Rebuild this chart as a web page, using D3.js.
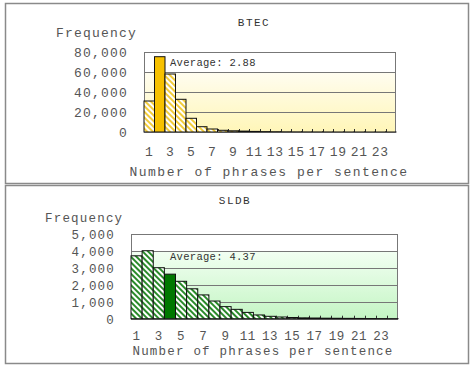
<!DOCTYPE html>
<html><head><meta charset="utf-8">
<script src="https://cdn.jsdelivr.net/npm/d3@7/dist/d3.min.js"></script>
<style>
body{margin:0;background:#fff;}
text{font-family:"Liberation Mono","Courier New",monospace;fill:#555;}
</style></head>
<body><svg id="c" width="474" height="366"></svg>
<script>
const categories = [1,2,3,4,5,6,7,8,9,10,11,12,13,14,15,16,17,18,19,20,21,22,23,24];
const tickLabels = [1,3,5,7,9,11,13,15,17,19,21,23];
const btecValues = [31000,75300,58000,32700,13700,5300,3000,1700,1200,900,600,400,300,200,150,100,80,60,40,30,20,15,10,5];
const sldbValues = [3700,4000,3000,2620,2200,1760,1400,1040,710,550,370,220,140,100,70,50,40,30,25,20,15,10,8,5];
const btecYTicks = [0,20000,40000,60000,80000];
const sldbYTicks = [0,1000,2000,3000,4000,5000];
const btecTitle = "BTEC", sldbTitle = "SLDB";
const btecAverage = "Average: 2.88", sldbAverage = "Average: 4.37";
const btecHighlight = 2, sldbHighlight = 4;

const svg = d3.select("#c");
const defs = svg.append("defs");

function hatch(id, color){
  const p = defs.append("pattern").attr("id", id).attr("patternUnits","userSpaceOnUse")
    .attr("width",4).attr("height",4).attr("patternTransform","rotate(45)");
  p.append("rect").attr("width",4).attr("height",4).attr("fill","#fff");
  p.append("rect").attr("width",4).attr("height",2).attr("fill",color);
}
hatch("hY","#f2cc3a");
hatch("hG","#2a8a2a");

function grad(id, stops){
  const g = defs.append("linearGradient").attr("id",id).attr("x1",0).attr("y1",0).attr("x2",0).attr("y2",1);
  stops.forEach(s=>g.append("stop").attr("offset",s[0]).attr("stop-color",s[1]));
}
grad("bgY",[[0,"#ffffff"],[0.25,"#ffffff"],[0.26,"#fffdf0"],[1,"#fff6b8"]]);
grad("bgG",[[0,"#ffffff"],[0.2,"#ffffff"],[0.21,"#f2fff2"],[1,"#c4f5c4"]]);

function panel(cfg){
  const g = svg.append("g");
  g.append("rect").attr("x",cfg.box[0]+0.5).attr("y",cfg.box[1]+0.5)
    .attr("width",cfg.box[2]).attr("height",cfg.box[3])
    .attr("fill","#fff").attr("stroke","#8a8a8a").attr("stroke-width",1.5);
  const x = d3.scaleBand().domain(categories).range([cfg.left,cfg.right]).padding(0);
  const y = d3.scaleLinear().domain([0,d3.max(cfg.yTicks)]).range([cfg.bottom,cfg.top]);
  g.append("rect").attr("x",cfg.left).attr("y",cfg.top).attr("width",cfg.right-cfg.left)
    .attr("height",cfg.bottom-cfg.top).attr("fill",`url(#${cfg.bg})`);
  g.selectAll(".grid").data(cfg.yTicks).join("line")
    .attr("x1",cfg.left).attr("x2",cfg.right)
    .attr("y1",d=>Math.round(y(d))+0.5).attr("y2",d=>Math.round(y(d))+0.5)
    .attr("stroke","#777").attr("stroke-width",1);
  g.append("rect").attr("x",cfg.left+0.5).attr("y",Math.round(cfg.top)+0.5)
    .attr("width",cfg.right-cfg.left-1).attr("height",Math.round(cfg.bottom)-Math.round(cfg.top))
    .attr("fill","none").attr("stroke","#777");
  g.append("text").attr("x",cfg.avgX).attr("y",cfg.avgY).attr("font-size",10.5)
    .attr("letter-spacing",0.3).style("fill","#333").text(cfg.avg);
  g.selectAll(".bt").data(categories).join("line")
    .attr("x1",d=>Math.round(x(d))+0.5).attr("x2",d=>Math.round(x(d))+0.5)
    .attr("y1",cfg.bottom).attr("y2",cfg.bottom-3).attr("stroke","#333");
  g.selectAll(".bar").data(categories).join("rect")
    .attr("x",d=>x(d)).attr("width",x.bandwidth())
    .attr("y",(d,i)=>y(cfg.values[i])).attr("height",(d,i)=>cfg.bottom-y(cfg.values[i]))
    .attr("fill",d=>d===cfg.hi?cfg.hiColor:`url(#${cfg.hatch})`)
    .attr("stroke","#111").attr("stroke-width",1);
  g.append("line").attr("x1",cfg.left).attr("x2",cfg.right)
    .attr("y1",Math.round(cfg.bottom)+0.5).attr("y2",Math.round(cfg.bottom)+0.5).attr("stroke","#555");
  const ya = g.append("g").attr("transform",`translate(${cfg.left-cfg.yGap},0)`)
    .call(d3.axisLeft(y).tickValues(cfg.yTicks).tickSize(0).tickFormat(d3.format(",")));
  ya.select(".domain").remove();
  ya.selectAll("text").attr("font-size",cfg.fs).attr("letter-spacing",cfg.ls)
    .style("font-family",'"Liberation Mono",monospace').style("fill","#555").attr("fill",null).attr("dy","0.35em");
  const xa = g.append("g").attr("transform",`translate(0,${cfg.bottom+cfg.xGap})`)
    .call(d3.axisBottom(x).tickValues(tickLabels).tickSize(0));
  xa.select(".domain").remove();
  xa.selectAll("text").attr("font-size",cfg.fs).attr("letter-spacing",cfg.xls)
    .style("font-family",'"Liberation Mono",monospace').style("fill","#555").attr("fill",null).attr("dy","0.35em").attr("y",0);
  g.append("text").attr("x",cfg.ytX).attr("y",cfg.ytY).attr("font-size",cfg.fs).attr("letter-spacing",cfg.ls).text("Frequency");
  g.append("text").attr("x",cfg.tX).attr("y",cfg.tY).attr("font-size",cfg.tfs).attr("letter-spacing",1.5).attr("text-anchor","middle").style("fill","#333").text(cfg.title);
  g.append("text").attr("x",cfg.xtX).attr("y",cfg.xtY).attr("font-size",cfg.fs).attr("letter-spacing",cfg.xtls).attr("text-anchor","middle").text("Number of phrases per sentence");
}

panel({box:[5,3,463,180],left:144,right:396,top:52,bottom:132,values:btecValues,yTicks:btecYTicks,
  bg:"bgY",hatch:"hY",hi:btecHighlight,hiColor:"#f7c100",avg:btecAverage,avgX:170,avgY:66,
  yGap:13,xGap:19,fs:13,ls:1.2,xls:0.6,xtls:1.5,ytX:56,ytY:37,tX:254,tY:26,tfs:11,title:btecTitle,xtX:269,xtY:176});
panel({box:[5,185,463,178],left:131,right:398,top:233.7,bottom:318.7,values:sldbValues,yTicks:sldbYTicks,
  bg:"bgG",hatch:"hG",hi:sldbHighlight,hiColor:"#007800",avg:sldbAverage,avgX:170,avgY:260,
  yGap:13,xGap:17,fs:12.5,ls:1.2,xls:0.6,xtls:1.2,ytX:45,ytY:222,tX:235,tY:204,tfs:11,title:sldbTitle,xtX:263,xtY:355});
</script></body></html>
